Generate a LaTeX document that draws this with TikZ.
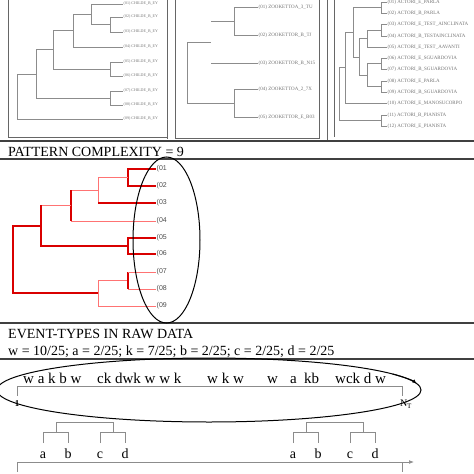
\documentclass[tikz,border=0pt]{standalone}
\usepackage{fontspec}
\setmainfont{Liberation Serif}
\newfontfamily\labfont{Liberation Sans}
\usetikzlibrary{positioning,arrows.meta}

\begin{document}
\begin{tikzpicture}[x=1pt,y=-1pt,
   rule/.style={draw=black!75,line width=1.2pt},
   frame/.style={draw=black!60,line width=0.6pt},
   gtree/.style={draw=black!45,line width=0.7pt},
   rtree/.style={draw=red!85!black,line width=1.1pt},
   ptree/.style={draw=red!55,line width=0.6pt},
   head/.style={anchor=base west,inner sep=0pt,font=\fontsize{14}{16}\selectfont},
   tiny/.style={anchor=west,inner sep=0.5pt,font=\fontsize{4}{5}\selectfont,text=black!55},
   small/.style={anchor=west,inner sep=0.5pt,font=\fontsize{5}{6}\selectfont,text=black!55},
   leaf/.style={anchor=west,inner sep=0.5pt,font=\labfont\fontsize{7}{8}\selectfont,text=black!70},
   letter/.style={anchor=base,inner sep=0pt,font=\fontsize{14}{16}\selectfont},
   word/.style={anchor=base west,inner sep=0pt,font=\fontsize{15}{16}\selectfont}]
   \clip (0,0) rectangle (474,474);
   % top panels
   \draw[frame] (8,0) -- (8,137) -- (167,137);
   \draw[frame] (167,0) -- (167,139);
   \draw[frame] (175,0) -- (175,138) -- (319,138) -- (319,0);
   \draw[frame] (327,0) -- (327,141);
   \draw[frame] (334,0) -- (334,137);
   % left tree
   \draw[gtree] (123,17) -- (110,17) -- (110,32) -- (123,32);
   \draw[gtree] (123,4) -- (91,4) -- (91,24.5) -- (110,24.5);
   \draw[gtree] (91,14) -- (73,14) -- (73,47) -- (123,47);
   \draw[gtree] (123,62) -- (110,62) -- (110,76) -- (123,76);
   \draw[gtree] (73,30.5) -- (53,30.5) -- (53,69) -- (110,69);
   \draw[gtree] (123,91) -- (110,91) -- (110,105) -- (123,105);
   \draw[gtree] (53,49.75) -- (36,49.75) -- (36,98) -- (110,98);
   \draw[gtree] (36,74) -- (17,74) -- (17,119) -- (123,119);
   \foreach \i/\y in {01/4,02/17,03/32,04/47,05/62,06/76,07/91,08/105,09/119}
      \node[tiny] (ch\i) at (123,\y) {(\i) CHILDE\_B\_EY};
   % middle tree
   \draw[gtree] (258,7) -- (234,7) -- (234,35) -- (258,35);
   \draw[gtree] (211,21) -- (234,21);
   \draw[gtree] (211,63) -- (258,63);
   \draw[gtree] (258,89) -- (234,89) -- (234,117) -- (258,117);
   \draw[gtree] (234,103) -- (187,103) -- (187,42) -- (211,42);
   \foreach \i/\y/\t in {01/7/ZOOKETTOA\_3\_TU,02/35/ZOOKETTOR\_B\_TJ,03/63/ZOOKETTOR\_B\_N15,04/89/ZOOKETTOA\_2\_7X,05/117/ZOOKETTOR\_E\_B03}
      \node[small] (zo\i) at (258,\y) {(\i) \t};
   % right tree
   \draw[gtree] (387,2) -- (381,2) -- (381,13) -- (387,13);
   \draw[gtree] (387,24) -- (381,24) -- (381,36) -- (387,36);
   \draw[gtree] (381,30) -- (367,30) -- (367,47) -- (387,47);
   \draw[gtree] (387,58) -- (381,58) -- (381,69) -- (387,69);
   \draw[gtree] (387,81) -- (381,81) -- (381,92) -- (387,92);
   \draw[gtree] (381,63.5) -- (367,63.5) -- (367,86.5) -- (381,86.5);
   \draw[gtree] (367,38.5) -- (359,38.5) -- (359,75) -- (367,75);
   \draw[gtree] (381,7.5) -- (353,7.5) -- (353,57) -- (359,57);
   \draw[gtree] (353,32) -- (345,32) -- (345,103) -- (387,103);
   \draw[gtree] (387,115) -- (381,115) -- (381,126) -- (387,126);
   \draw[gtree] (345,67.5) -- (339,67.5) -- (339,120.5) -- (381,120.5);
   \foreach \i/\y/\t in {01/2/ACTORI\_E\_PARLA,02/13/ACTORI\_B\_PARLA,03/24/ACTORI\_E\_TEST\_AINCLINATA,
         04/36/ACTORI\_B\_TESTAINCLINATA,05/47/ACTORI\_E\_TEST\_AAVANTI,06/58/ACTORI\_E\_SGUARDOVIA,
         07/69/ACTORI\_B\_SGUARDOVIA,08/81/ACTORI\_E\_PARLA,09/92/ACTORI\_B\_SGUARDOVIA,
         10/103/ACTORI\_E\_MANOSUCORPO,11/115/ACTORI\_B\_PIANISTA,12/126/ACTORI\_E\_PIANISTA}
      \node[small] (ac\i) at (387,\y) {(\i) \t};
   % rules and headings
   \draw[rule] (0,141) -- (474,141);
   \draw[rule] (0,159) -- (474,159);
   \draw[rule] (0,323) -- (474,323);
   \draw[rule] (0,359) -- (474,359);
   \node[head] (pc) at (8,156) {PATTERN COMPLEXITY = 9};
   \node[head] (et) at (8,338) {EVENT-TYPES IN RAW DATA};
   \node[head] (fr) at (8,355) {w = 10/25; a = 2/25; k = 7/25; b = 2/25; c = 2/25; d = 2/25};
   % red tree
   \draw[rtree] (156,169) -- (128,169) -- (128,186) -- (156,186);
   \draw[ptree] (128,177.5) -- (98,177.5) -- (98,203);
   \draw[rtree] (98,203) -- (156,203);
   \draw[ptree] (98,190) -- (71,190);
   \draw[rtree] (71,190) -- (71,221);
   \draw[ptree] (71,221) -- (156,221) (71,205) -- (41,205);
   \draw[rtree] (156,238) -- (128,238) -- (128,254) -- (156,254);
   \draw[rtree] (41,205) -- (41,246) -- (128,246);
   \draw[rtree] (41,226) -- (13,226) -- (13,293) -- (98,293);
   \draw[ptree] (98,280) -- (98,306) -- (156,306) (98,280) -- (128,280);
   \draw[rtree] (128,272) -- (128,289);
   \draw[ptree] (128,272) -- (156,272) (128,289) -- (156,289);
   \foreach \i/\y in {01/169,02/186,03/203,04/221,05/238,06/254,07/272,08/289,09/306}
      \node[leaf] (pl\i) at (156,\y) {(\i};
   \draw[black,line width=1pt] (166.5,240) ellipse [x radius=33.5,y radius=83];
   % raw data
   \draw[gtree] (17,386) -- (402,386);
   \draw[gtree] (17,386) -- (17,396) (402,386) -- (402,396);
   \foreach \x/\t [count=\n] in {23/w a k b w,97/ck dwk w w k,207/w k w,267/w,290/a,304/kb,335/wck d w}
      \node[word] (seq\n) at (\x,383) {\t};
   \node[inner sep=0pt,font=\bfseries\fontsize{9}{10}\selectfont] (one) at (17,404) {1};
   \node[inner sep=0pt,font=\fontsize{10}{11}\selectfont] (nt) at (406,404) {N$_\mathrm{T}$};
   \draw[black,line width=1pt] (209,390) ellipse [x radius=212,y radius=32];
   \draw[black,line width=1pt,-{Latex[length=5pt]}] (209,390) ++(330:212 and 32) arc[start angle=330,end angle=349,x radius=212,y radius=32];
   % motif trees
   \foreach \ox in {0,250}{
      \draw[gtree] (43+\ox,443) -- (43+\ox,432) -- (68+\ox,432) -- (68+\ox,443);
      \draw[gtree] (100+\ox,443) -- (100+\ox,432) -- (125+\ox,432) -- (125+\ox,443);
      \draw[gtree] (56+\ox,432) -- (56+\ox,422) -- (113+\ox,422) -- (113+\ox,432);
   }
   \foreach \x/\t in {43/a,68/b,100/c,125/d,293/a,318/b,350/c,375/d}
      \node[letter] (m\x) at (\x,458) {\t};
   \draw[gtree,-{Latex[length=5pt]}] (17,462) -- (414,462);
   \draw[gtree] (17,462) -- (17,472) (402,462) -- (402,472);
\end{tikzpicture}
\end{document}
